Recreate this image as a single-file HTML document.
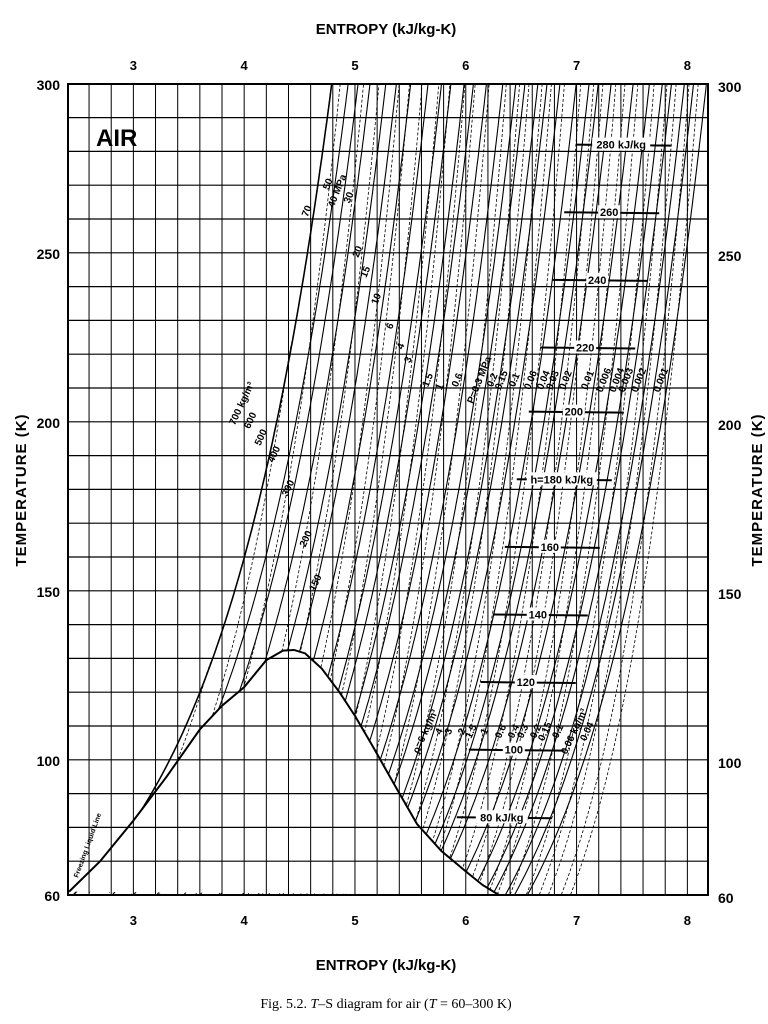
<!DOCTYPE html>
<html><head><meta charset="utf-8">
<style>
html,body{margin:0;padding:0;background:#fff;}
svg{display:block;font-family:"Liberation Sans",sans-serif;}
</style></head>
<body>
<svg id="chart" width="768" height="1024" viewBox="0 0 768 1024" xmlns="http://www.w3.org/2000/svg">
<defs><clipPath id="plotclip"><rect x="68" y="84" width="640" height="811"/></clipPath>
<clipPath id="envclip"><polygon id="envpoly" points="0,0"/></clipPath></defs>
<rect x="0" y="0" width="768" height="1024" fill="#fff"/>
<g clip-path="url(#plotclip)"><g id="curves" clip-path="url(#envclip)"></g><g id="dome-layer"></g></g>
<g id="grid"></g>
<g id="labels"></g>
<text x="386" y="34" font-size="15" font-weight="bold" text-anchor="middle">ENTROPY (kJ/kg-K)</text>
<text x="386" y="970" font-size="15" font-weight="bold" text-anchor="middle">ENTROPY (kJ/kg-K)</text>
<text transform="translate(26,490) rotate(-90)" font-size="15" font-weight="bold" text-anchor="middle" letter-spacing="1">TEMPERATURE (K)</text>
<text transform="translate(762,490) rotate(-90)" font-size="15" font-weight="bold" text-anchor="middle" letter-spacing="1">TEMPERATURE (K)</text>
<text x="96" y="146" font-size="24" font-weight="bold">AIR</text>
<text x="386" y="1008" font-size="14" text-anchor="middle" font-family="Liberation Serif, serif">Fig. 5.2. <tspan font-style="italic">T</tspan>–S diagram for air (<tspan font-style="italic">T</tspan> = 60–300 K)</text>
</svg>
<script>
const sTicks=[3,4,5,6,7,8];
const tTicks=[300,250,200,150,100,60];
const pressures=[70,50,40,30,20,15,10,6,4,3,2,1.5,1,0.6,0.4,0.3,0.2,0.15,0.1,0.06,0.04,0.03,0.02,0.01,0.006,0.004,0.003,0.002,0.0015,0.001];
const densities=[900,800,700,600,500,400,300,200,150,100,80,60,40,30,20,15,10,6,4,3,2,1.5,1,0.6,0.4,0.3,0.2,0.15,0.1,0.06,0.04,0.03,0.02,0.015];
const enthalpyValues=[280,260,240,220,200,180,160,140,120,100,80];
const enthalpyTemps=[282,262,242,222,203,183,163,143,123,103,83];
const satLiquidS=[2.42,2.7,3.0,3.3,3.6,3.8,4.0,4.2,4.35];
const satLiquidT=[61,70,82,95,109,116,121.5,129.5,132.3];
const satVaporS=[4.45,4.55,4.7,4.86,5.0,5.16,5.35,5.56,5.78,6.0,6.15,6.3];
const satVaporT=[132.5,131.5,127,120,113,104,93,81,73,67,63,60];

const NS="http://www.w3.org/2000/svg";
const X=s=>68+(s-2.41)*110.8;
const Y=T=>895-(T-60)*3.38;
function mk(tag,attrs,parent){const e=document.createElementNS(NS,tag);for(const k in attrs)e.setAttribute(k,attrs[k]);parent.appendChild(e);return e;}
const curves=document.getElementById('curves');
const domeLayer=document.getElementById('dome-layer');
const grid=document.getElementById('grid');
const labels=document.getElementById('labels');

function sP(P,T){return 6.85+1.004*Math.log(T/300)-0.287*Math.log(P/0.1)-0.77*P/T;}
function sD(r,T){return 6.85+0.717*Math.log(T/300)-0.287*Math.log(r/1.16)-0.52*Math.log(1+r/200)*Math.sqrt(200/T);}

// envelope: right of the highest isobar
const pMax=Math.max(...pressures);
let env=[];
for(let T=304;T>=56;T-=2)env.push((X(sP(pMax,T))-1).toFixed(1)+','+Y(T).toFixed(1));
env.push('760,'+Y(56).toFixed(1));env.push('760,'+Y(304).toFixed(1));
document.getElementById('envpoly').setAttribute('points',env.join(' '));

pressures.forEach(P=>{
  let pts=[];for(let T=56;T<=304;T+=2)pts.push(X(sP(P,T)).toFixed(1)+','+Y(T).toFixed(1));
  const e=mk('polyline',{points:pts.join(' '),fill:'none',stroke:'#000','stroke-width':P===pMax?1.6:1.1},curves);
  
  
});
densities.forEach(r=>{
  let pts=[];for(let T=56;T<=304;T+=2)pts.push(X(sD(r,T)).toFixed(1)+','+Y(T).toFixed(1));
  const e=mk('polyline',{points:pts.join(' '),fill:'none',stroke:'#000','stroke-width':0.8,'stroke-dasharray':'3,2'},curves);
  
  
});
let dome=[];
satLiquidS.forEach((s,i)=>dome.push(X(s)+','+Y(satLiquidT[i])));
satVaporS.forEach((s,i)=>dome.push(X(s)+','+Y(satVaporT[i])));
const domeFill=mk('polygon',{points:dome.join(' '),fill:'#fff',stroke:'none'},domeLayer);


for(let i=0;i<=28;i++){const s=2.6+i*0.2;const x=X(s);if(x>708)break;
  const e=mk('line',{x1:x,y1:84,x2:x,y2:895,stroke:'#000','stroke-width':1},grid);
  }
for(let T=70;T<300;T+=10){
  const e=mk('line',{x1:68,y1:Y(T),x2:708,y2:Y(T),stroke:'#000','stroke-width':1.2},grid);
  }
const border=mk('rect',{x:68,y:84,width:640,height:811,fill:'none',stroke:'#000','stroke-width':2},grid);

const domeLine=mk('polyline',{points:dome.join(' '),fill:'none',stroke:'#000','stroke-width':2},grid);

sTicks.forEach(s=>{
  let t=mk('text',{x:X(s),y:70,'font-size':13,'font-weight':'bold','text-anchor':'middle'},labels);t.textContent=s;
  
  t=mk('text',{x:X(s),y:925,'font-size':13,'font-weight':'bold','text-anchor':'middle'},labels);t.textContent=s;
  
});
tTicks.forEach(T=>{
  let t=mk('text',{x:60,y:Y(T)+6,'font-size':14,'font-weight':'bold','text-anchor':'end'},labels);t.textContent=T;
  
  t=mk('text',{x:718,y:Y(T)+8,'font-size':14,'font-weight':'bold'},labels);t.textContent=T;
  
});
enthalpyValues.forEach((h,i)=>{
  const T=enthalpyTemps[i];const x=560+(T-180)*0.6;const y=Y(T);
  const l=mk('line',{x1:x-45,y1:y,x2:x+50,y2:y+1,stroke:'#000','stroke-width':2},labels);
  
  let txt=h===280?'280 kJ/kg':h===180?'h=180 kJ/kg':h===80?'80 kJ/kg':String(h);
  const w=txt.length*6+4;
  const r=mk('rect',{x:x-w/2,y:y-7,width:w,height:13,fill:'#fff'},labels);
  
  const t=mk('text',{x:x,y:y+4,'font-size':11,'font-weight':'bold','text-anchor':'middle'},labels);t.textContent=txt;
  
});
const pLabelT=[[70,262],[50,270],[40,268],[30,266],[20,250],[15,244],[10,236],[6,228],[4,222],[3,218],[1.5,212],[1,210],[0.6,212],[0.3,212],[0.2,212],[0.15,212],[0.1,212],[0.06,212],[0.04,212],[0.03,212],[0.02,212],[0.01,212],[0.006,212],[0.004,212],[0.003,212],[0.002,212],[0.001,212]];
pLabelT.forEach(([P,T])=>{
  const x=X(sP(P,T))-4,y=Y(T);
  let txt=P===40?'40 MPa':P===0.3?'P=0.3 MPa':String(P);
  const t=mk('text',{transform:`translate(${x},${y}) rotate(-68)`,'font-size':10,'font-weight':'bold','text-anchor':'middle'},labels);
  t.textContent=txt;
});
const dLabelT=[[6,108],[4,108],[3,108],[2,108],[1.5,108],[1,108],[0.6,108],[0.4,108],[0.3,108],[0.2,108],[0.15,108],[0.1,108],[0.06,108],[0.04,108],[700,205],[600,200],[500,195],[400,190],[300,180],[200,165],[150,152]];
dLabelT.forEach(([r,T])=>{
  const x=X(sD(r,T))+4,y=Y(T);
  let txt=r===6?'ρ=6 kg/m³':r===0.06?'0.06 kg/m³':r===700?'700 kg/m³':String(r);
  const t=mk('text',{transform:`translate(${x},${y}) rotate(-65)`,'font-size':10,'font-weight':'bold','text-anchor':'middle'},labels);
  t.textContent=txt;
});
const fz=mk('text',{transform:`translate(${X(2.5)},${Y(65)}) rotate(-70)`,'font-size':7,'font-weight':'bold'},labels);
fz.textContent='Freezing Liquid Line';
</script>
</body></html>
